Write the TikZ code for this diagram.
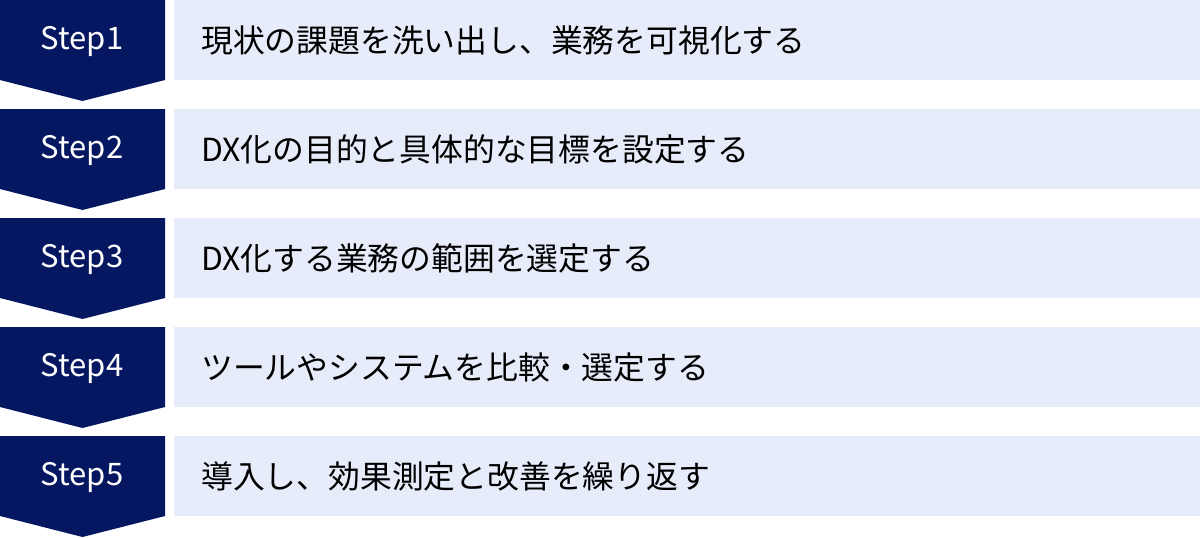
\documentclass[tikz,border=0pt]{standalone}
\usepackage{fontspec}
\setmainfont{Noto Sans CJK JP}
\usetikzlibrary{positioning}

\definecolor{stepnavy}{HTML}{041760}
\definecolor{taskblue}{HTML}{E6ECF9}

\begin{document}
\begin{tikzpicture}[x=1pt, y=-1pt,
        steplabel/.style={text=white, inner sep=0pt, font=\fontsize{31}{35}\selectfont},
        tasktext/.style={anchor=west, inner sep=0pt, text=black, font=\fontsize{31.8}{36}\selectfont}]
        \useasboundingbox (0, 0) rectangle (1200, 538);

        \foreach \i/\txt in {1/{現状の課題を洗い出し、業務を可視化する},
                2/{DX化の目的と具体的な目標を設定する},
                3/{DX化する業務の範囲を選定する},
                4/{ツールやシステムを比較・選定する},
                5/{導入し、効果測定と改善を繰り返す}} {
                \pgfmathsetmacro{\ytop}{(\i - 1) * 109}
                % arrow-shaped step marker
                \fill[stepnavy] (0, \ytop) -- (165, \ytop) -- (165, \ytop + 80)
                        -- (82.5, \ytop + 101) -- (0, \ytop + 80) -- cycle;
                \node[steplabel] (step\i) at (82, \ytop + 41) {Step\i};
                % task bar
                \fill[taskblue] (174, \ytop) rectangle (1200, \ytop + 80);
                \node[tasktext] (task\i) at (201, \ytop + 40) {\txt};
        }
\end{tikzpicture}
\end{document}
